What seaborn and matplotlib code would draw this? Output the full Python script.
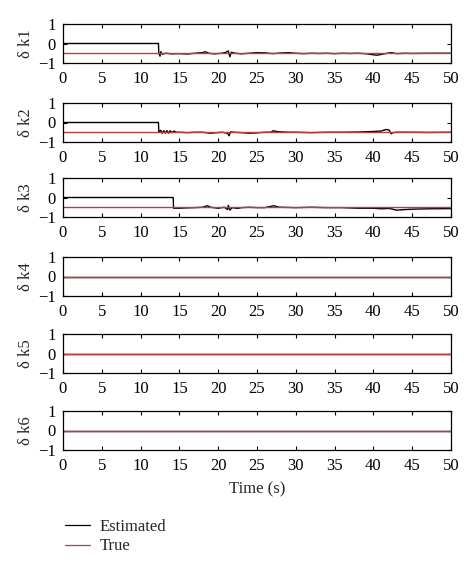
import matplotlib
matplotlib.use("Agg")
import matplotlib.pyplot as plt
import seaborn as sns
import pandas as pd
from matplotlib.lines import Line2D

sns.set_theme(style="ticks")
plt.rcParams['font.family'] = ['Liberation Serif', 'DejaVu Serif']
plt.rcParams['axes.unicode_minus'] = True

panel_labels = ["δ k1", "δ k2", "δ k3", "δ k4", "δ k5", "δ k6"]
x_ticks = [0, 5, 10, 15, 20, 25, 30, 35, 40, 45, 50]
y_ticks = [-1, 0, 1]
true_values = [-0.5, -0.5, -0.5, 0.0, 0.0, 0.0]

k1_t = [0, 12.3, 12.35, 12.5, 12.6, 12.8, 13.2, 14, 15, 16, 17, 18, 18.3, 18.8, 19.5, 20.5,
        21.0, 21.3, 21.5, 21.7, 22.2, 23, 24, 25, 26, 27, 28, 29, 30, 31, 32, 33, 34, 35, 36, 37,
        38, 39, 40, 40.5, 41, 41.5, 42.3, 43, 44, 45, 47, 50]
k1_v = [0, 0, -0.5, -0.65, -0.42, -0.55, -0.5, -0.53, -0.52, -0.54, -0.5, -0.47, -0.42, -0.5,
        -0.53, -0.5, -0.45, -0.38, -0.68, -0.45, -0.5, -0.53, -0.5, -0.47, -0.48, -0.52, -0.49,
        -0.47, -0.5, -0.52, -0.5, -0.51, -0.5, -0.52, -0.5, -0.51, -0.5, -0.52, -0.58, -0.6,
        -0.56, -0.52, -0.47, -0.52, -0.5, -0.51, -0.5, -0.5]

k2_t = [0, 12.3, 12.35, 12.6, 12.8, 13.0, 13.2, 13.4, 13.6, 13.8, 14.0, 14.3, 14.6, 15, 16, 17,
        18, 19, 19.5, 20.5, 21.2, 21.4, 21.6, 22, 23, 24, 25, 26, 26.8, 27.1, 27.5, 28, 29, 30,
        32, 34, 36, 38, 40, 41, 41.6, 42.0, 42.3, 42.5, 43, 45, 47, 50]
k2_v = [0, 0, -0.5, -0.4, -0.55, -0.42, -0.55, -0.42, -0.55, -0.42, -0.52, -0.44, -0.5, -0.5,
        -0.52, -0.5, -0.5, -0.55, -0.53, -0.5, -0.55, -0.68, -0.48, -0.5, -0.52, -0.55, -0.53,
        -0.5, -0.5, -0.42, -0.46, -0.48, -0.5, -0.5, -0.52, -0.5, -0.5, -0.49, -0.46, -0.44,
        -0.36, -0.38, -0.58, -0.52, -0.5, -0.5, -0.51, -0.5]

k3_t = [0, 14.2, 14.25, 15, 16, 17, 18, 18.6, 19, 20, 20.8, 21.2, 21.3, 21.5, 21.8, 22.5, 23,
        24, 25, 26, 27.2, 27.6, 28, 30, 32, 34, 36, 38, 40, 41, 42, 42.5, 43, 44, 45, 47, 50]
k3_v = [0, 0, -0.55, -0.55, -0.53, -0.52, -0.5, -0.42, -0.5, -0.55, -0.5, -0.62, -0.4, -0.65,
        -0.52, -0.56, -0.52, -0.5, -0.52, -0.52, -0.42, -0.48, -0.5, -0.52, -0.5, -0.52, -0.52,
        -0.55, -0.55, -0.58, -0.56, -0.6, -0.65, -0.62, -0.6, -0.58, -0.57]

k4_t = [0, 50]
k4_v = [0, 0]
k5_t = [0, 50]
k5_v = [0, 0]
k6_t = [0, 50]
k6_v = [0, 0]

estimated = [(k1_t, k1_v), (k2_t, k2_v), (k3_t, k3_v), (k4_t, k4_v), (k5_t, k5_v), (k6_t, k6_v)]

RED = "#b8403c"
W, H = 474, 571
fig = plt.figure(figsize=(W / 100, H / 100), dpi=100)

tops = [24, 103, 178, 257, 334, 411]
ph = 39
left, right = 63, 451

for i, (lab, (tt, vv), tv) in enumerate(zip(panel_labels, estimated, true_values)):
    ax = fig.add_axes([left / W, 1 - (tops[i] + ph) / H, (right - left) / W, ph / H])
    sns.lineplot(x=tt, y=vv, ax=ax, color="black", linewidth=1.0)
    sns.lineplot(x=[0, 50], y=[tv, tv], ax=ax, color=RED, linewidth=1.0)
    ax.set_xlim(0, 50)
    ax.set_ylim(-1, 1)
    ax.set_xticks(x_ticks)
    ax.set_yticks(y_ticks)
    ax.tick_params(direction="in", top=True, right=True, length=3, width=0.8,
                   labelsize=12, colors="black")
    ax.tick_params(axis="x", pad=6)
    ax.tick_params(axis="y", pad=5)
    for s in ax.spines.values():
        s.set_linewidth(0.9)
        s.set_color("black")
    ax.set_ylabel(lab, fontsize=12, labelpad=3)
    if i == 5:
        ax.set_xlabel("Time (s)", fontsize=12, labelpad=5)

handles = [Line2D([0], [0], color="black", linewidth=0.9),
           Line2D([0], [0], color=RED, linewidth=0.9)]
fig.legend(handles, ["Estimated", "True"], loc="upper left",
           bbox_to_anchor=(50 / W, 1 - 504 / H), frameon=False, fontsize=12,
           handlelength=1.5, handletextpad=0.6, labelspacing=0.2)

fig.savefig("out.png", dpi=100)
